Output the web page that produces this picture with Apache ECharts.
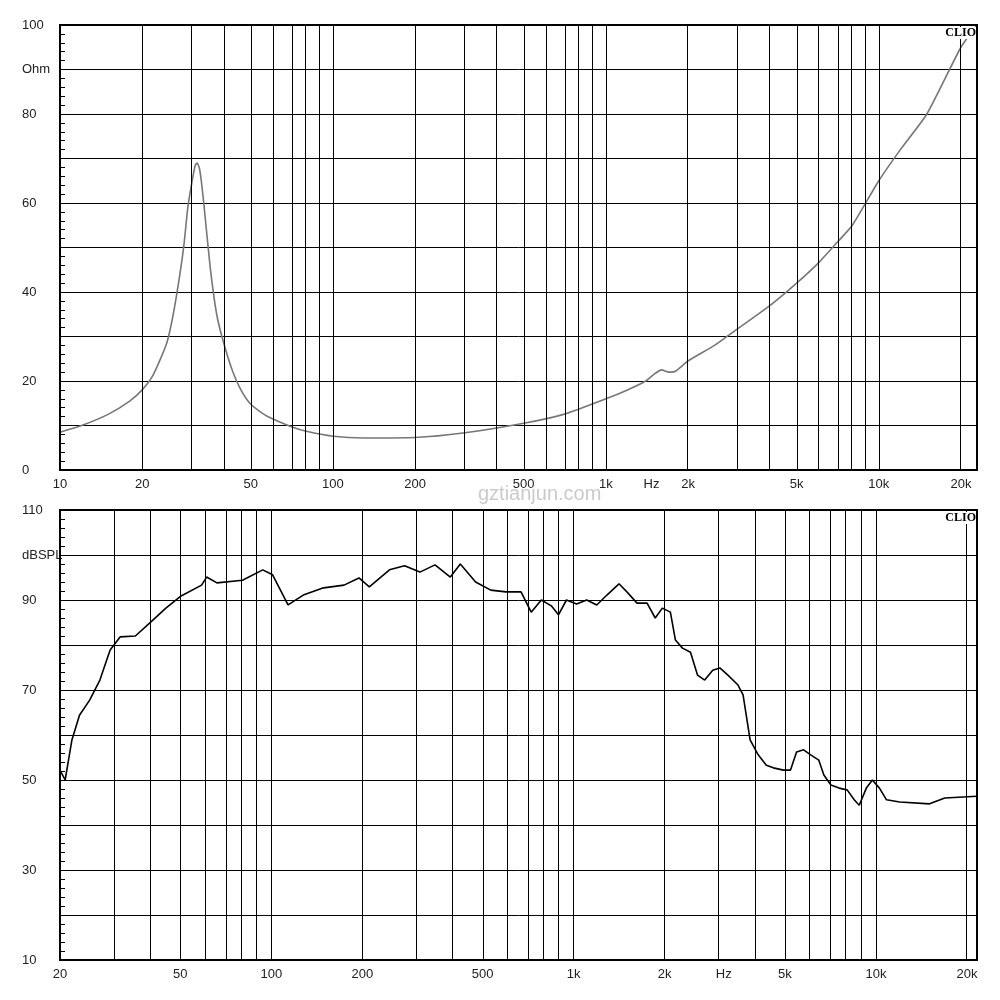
<!DOCTYPE html>
<html><head><meta charset="utf-8">
<script src="https://cdn.jsdelivr.net/npm/echarts@6/dist/echarts.min.js"></script>
<style>html,body{margin:0;background:#fff}#c{width:1000px;height:1000px}</style>
</head><body><div id="c"></div>
<script>
// impedance curve (top)
var impFreq = [10, 12, 15, 18, 20, 22, 24.6, 26, 27.5, 28.5, 29.4, 30.5, 31.3, 31.8, 32.5, 33.5, 35.5, 37.5, 39.6, 43, 46, 49.6, 55, 60, 70, 80, 100, 130, 200, 300, 500, 700, 1000, 1200, 1400, 1500, 1600, 1700, 1800, 2000, 2500, 3000, 4000, 5000, 6000, 7000, 8000, 10000, 12000, 15000, 20000, 22900];
var impOhm = [8.5, 10, 12.5, 15.5, 18, 21.5, 28.5, 35, 44, 51, 59, 65, 68.5, 69, 67.5, 61, 45.6, 35, 29, 22, 18, 15, 12.8, 11.5, 9.8, 8.7, 7.6, 7.2, 7.3, 8.3, 10.5, 12.5, 16, 18, 20, 21.5, 22.5, 22, 22.2, 24.5, 28, 31.5, 37, 42, 46.5, 51, 55, 65, 72, 80, 95, 100];
// SPL curve (bottom)
var splFreq = [20, 20.8, 21.9, 23.2, 25.1, 27.1, 29.3, 31.6, 35.5, 39.9, 44.8, 50.3, 58.8, 61.1, 66.1, 80.3, 93.7, 101, 113.6, 127.6, 148.9, 174, 195, 211, 246, 276, 310, 348, 391, 422, 474, 532, 597, 670, 724, 782, 844, 891, 947, 1023, 1105, 1193, 1289, 1413, 1501, 1621, 1750, 1862, 1966, 2090, 2172, 2292, 2436, 2571, 2714, 2886, 3046, 3239, 3498, 3636, 3836, 4080, 4340, 4580, 4944, 5219, 5464, 5766, 6086, 6474, 6727, 7100, 7552, 8033, 8477, 8809, 9297, 9735, 10274, 10843, 11985, 15050, 16900, 21600];
var splDb = [52.2, 50, 58.9, 64.4, 67.8, 72.2, 78.9, 81.8, 82, 85.1, 88.2, 90.9, 93.3, 95.1, 93.8, 94.4, 96.7, 95.6, 88.9, 91.1, 92.7, 93.3, 94.9, 92.9, 96.7, 97.6, 96.2, 97.8, 95.1, 98, 94, 92.2, 91.8, 91.8, 87.3, 90, 88.7, 86.7, 90, 89.1, 90, 88.9, 91.1, 93.6, 91.8, 89.3, 89.3, 86, 88.2, 87.3, 81.1, 79.3, 78.4, 73.3, 72.2, 74.4, 74.9, 73.3, 71.1, 68.9, 58.9, 55.6, 53.3, 52.7, 52.2, 52.2, 56.2, 56.7, 55.6, 54.4, 51.1, 48.9, 48.2, 47.8, 45.6, 44.4, 48.2, 50, 48.2, 45.6, 45.1, 44.7, 46, 46.4];
// grid lines and labels
var topGridFreq = [20, 30, 40, 50, 60, 70, 80, 90, 100, 200, 300, 400, 500, 600, 700, 800, 900, 1000, 2000, 3000, 4000, 5000, 6000, 7000, 8000, 9000, 10000, 20000];
var botGridFreq = [30, 40, 50, 60, 70, 80, 90, 100, 200, 300, 400, 500, 600, 700, 800, 900, 1000, 2000, 3000, 4000, 5000, 6000, 7000, 8000, 9000, 10000, 20000];
var topTickFreq = [10, 20, 50, 100, 200, 500, 1000, 1470, 2000, 5000, 10000, 20000];
var topTickText = ['10', '20', '50', '100', '200', '500', '1k', 'Hz', '2k', '5k', '10k', '20k'];
var botTickFreq = [20, 50, 100, 200, 500, 1000, 2000, 3140, 5000, 10000, 20000];
var botTickText = ['20', '50', '100', '200', '500', '1k', '2k', 'Hz', '5k', '10k', '20k'];

var lg = Math.log10;
function pts(f, v) { return f.map(function(x, i) { return [lg(x), v[i]]; }); }
function lookup(freqs, texts) {
    return function(val) {
        for (var i = 0; i < freqs.length; i++) if (Math.abs(lg(freqs[i]) - val) < 1e-6) return texts[i];
        return '';
    };
}
var font = 'Liberation Sans';
function xAxis(idx, min, max, freqs, texts) {
    return {
        type: 'value', gridIndex: idx, min: lg(min), max: lg(max),
        axisLine: {show: true, onZero: false, lineStyle: {color: '#000', width: 2}},
        axisTick: {show: false}, splitLine: {show: false},
        axisLabel: {customValues: freqs.map(lg), formatter: lookup(freqs, texts), color: '#222', fontSize: 13, fontFamily: font, margin: 8}
    };
}
function yAxis(idx, min, max, unit, unitVal) {
    return {
        type: 'value', gridIndex: idx, min: min, max: max, interval: 10,
        axisLine: {show: true, lineStyle: {color: '#000', width: 2}},
        axisTick: {show: true, inside: true, length: 6, lineStyle: {color: '#000'}},
        minorTick: {show: true, splitNumber: 5, length: 5, lineStyle: {color: '#000'}},
        splitLine: {lineStyle: {color: '#000', width: 1}},
        axisLabel: {color: '#222', fontSize: 13, fontFamily: font, margin: 38, align: 'left',
            formatter: function(v) {
                if (v === unitVal) return unit;
                return (v - min) % 20 === 0 ? String(v) : '';
            }}
    };
}
function vlines(freqs) {
    return {silent: true, symbol: 'none', label: {show: false}, lineStyle: {color: '#000', width: 1, type: 'solid'},
        data: freqs.map(function(f) { return {xAxis: lg(f)}; })};
}
var chart = echarts.init(document.getElementById('c'));
chart.setOption({
    animation: false,
    grid: [
        {left: 60, right: 23, top: 25, height: 445},
        {left: 60, right: 23, top: 510, height: 450}
    ],
    xAxis: [xAxis(0, 10, 22900, topTickFreq, topTickText), xAxis(1, 20, 21600, botTickFreq, botTickText)],
    yAxis: [yAxis(0, 0, 100, 'Ohm', 90), yAxis(1, 10, 110, 'dBSPL', 100)],
    graphic: [
        {type: 'rect', shape: {x: 60, y: 25, width: 917, height: 445}, style: {fill: 'none', stroke: '#000', lineWidth: 2}, z: 10},
        {type: 'rect', shape: {x: 60, y: 510, width: 917, height: 450}, style: {fill: 'none', stroke: '#000', lineWidth: 2}, z: 10},
        {type: 'text', right: 24, top: 27, style: {text: 'CLIO', font: 'bold 12px "Liberation Serif"', fill: '#000', backgroundColor: '#fff'}, z: 11},
        {type: 'text', right: 24, top: 512, style: {text: 'CLIO', font: 'bold 12px "Liberation Serif"', fill: '#000', backgroundColor: '#fff'}, z: 11},
        {type: 'text', left: 478, top: 484, style: {text: 'gztianjun.com', font: '20px "Liberation Sans"', fill: 'rgba(150,150,150,0.5)'}, z: 11}
    ],
    series: [
        {type: 'line', xAxisIndex: 0, yAxisIndex: 0, data: pts(impFreq, impOhm), showSymbol: false, smooth: 0.2,
            lineStyle: {color: '#777', width: 1.6}, markLine: vlines(topGridFreq)},
        {type: 'line', xAxisIndex: 1, yAxisIndex: 1, data: pts(splFreq, splDb), showSymbol: false,
            lineStyle: {color: '#000', width: 1.6}, markLine: vlines(botGridFreq)}
    ]
});
</script>
</body></html>
